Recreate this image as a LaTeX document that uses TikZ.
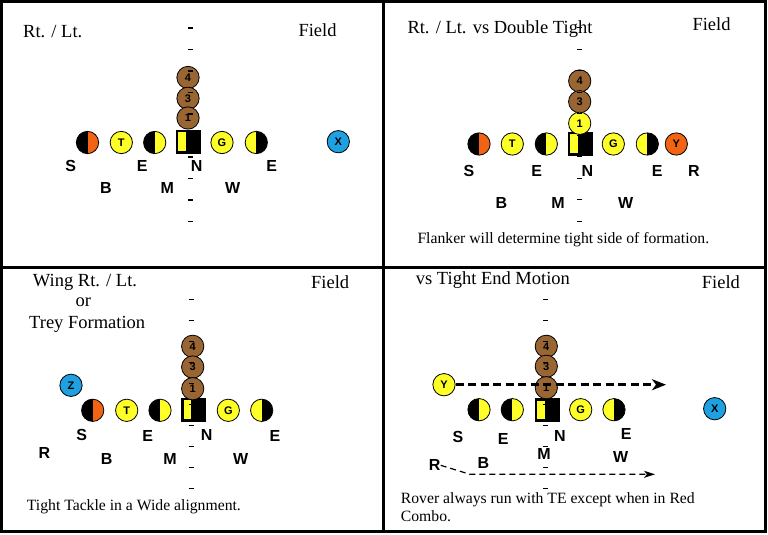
\documentclass[tikz,border=0pt]{standalone}
\usepackage{fontspec}
\setmainfont{Liberation Serif}
\setsansfont{Liberation Sans}
\usetikzlibrary{arrows.meta}

\definecolor{plyellow}{RGB}{255,255,40}
\definecolor{plbrown}{RGB}{153,102,51}
\definecolor{plblue}{RGB}{30,160,225}
\definecolor{plorange}{RGB}{240,100,20}

\begin{document}
\begin{tikzpicture}
[x = 1pt, y = -1pt,
 plyr/.style = {shape = circle, draw, line width = 0.8pt, minimum size = 22.3pt, inner sep = 0pt, font = \sffamily\bfseries\fontsize{11}{11}\selectfont},
 blackl/.style = {plyr, fill = #1, path picture = {\fill[black] (path picture bounding box.south west) rectangle (path picture bounding box.north);}},
 blackr/.style = {plyr, fill = #1, path picture = {\fill[black] (path picture bounding box.south) rectangle (path picture bounding box.north east);}},
 ctrbox/.style = {shape = rectangle, draw, fill = black, minimum width = 24pt, minimum height = 23pt, inner sep = 0pt,
   path picture = {\fill[plyellow] ([xshift = 2.3pt, yshift = 2.3pt]path picture bounding box.south west) rectangle ([xshift = 9.7pt, yshift = -2.3pt]path picture bounding box.north west);}},
 lbl/.style = {inner sep = 0pt, font = \sffamily\bfseries\fontsize{16}{16}\selectfont},
 hdr/.style = {inner sep = 0pt, font = \fontsize{18.5}{22}\selectfont},
 note/.style = {inner sep = 0pt, anchor = base west, font = \fontsize{15.7}{18}\selectfont},
 ydash/.style = {line width = 1.3pt},
 motion/.style = {line width = 2.5pt, dash pattern = on 8pt off 4.5pt, -{Stealth[length = 14pt, width = 11pt, inset = 4pt]}},
 rovpath/.style = {line width = 1.2pt, dash pattern = on 6pt off 4pt, -{Stealth[length = 11pt, width = 7pt, inset = 3pt]}}]
\useasboundingbox (0,0) rectangle (768,535);
\fill[white] (0,0) rectangle (768,535);
\draw[line width = 3pt] (1.5,1.5) rectangle (765,531);
\draw[line width = 2.5pt] (383.5,1.5) -- (383.5,531);
\draw[line width = 2.5pt] (1.5,267.3) -- (765,267.3);

\node[hdr, anchor = base west] (a-title) at (23,37.5) {Rt. / Lt.};
\node[hdr, anchor = base west] (a-field) at (298.3,37) {Field};
\node[blackl = plorange] (a-s) at (87.5,142.5) {};
\node[plyr, fill = plyellow] (a-t) at (121.3,142.5) {T};
\node[blackl = plyellow] (a-e) at (154.7,142.5) {};
\node[ctrbox] (a-c) at (188,141.5) {};
\node[plyr, fill = plyellow] (a-g) at (222,142.5) {G};
\node[blackr = plyellow] (a-f) at (256.3,142.5) {};
\node[plyr, fill = plblue] (a-x) at (338.3,141.7) {X};
\node[plyr, fill = plbrown] (a-4) at (188,77.5) {4};
\node[plyr, fill = plbrown] (a-3) at (188,98.3) {3};
\node[plyr, fill = plbrown] (a-1) at (188,118) {1};
\node[lbl] (a-ls) at (70.7,165.7) {S};
\node[lbl] (a-le) at (142.3,165.7) {E};
\node[lbl] (a-ln) at (196.7,165.7) {N};
\node[lbl] (a-lf) at (271.7,165.7) {E};
\node[lbl] (a-lb) at (106,187.7) {B};
\node[lbl] (a-lm) at (167.3,187.7) {M};
\node[lbl] (a-lw) at (232.7,187.7) {W};
\foreach \yy in {28,49.5,...,222}
    \draw[ydash] (187.5,\yy) -- (192.5,\yy);

\node[hdr, anchor = base west] (b-title) at (407.3,33.3) {Rt. / Lt. vs Double Tight};
\node[hdr, anchor = base west] (b-field) at (692.3,30.7) {Field};
\node[blackl = plorange] (b-s) at (479,144) {};
\node[plyr, fill = plyellow] (b-t) at (512.3,144) {T};
\node[blackl = plyellow] (b-e) at (546.3,144) {};
\node[ctrbox] (b-c) at (579.8,143.3) {};
\node[plyr, fill = plyellow] (b-g) at (613.3,144) {G};
\node[blackr = plyellow] (b-f) at (647.3,144) {};
\node[plyr, fill = plorange] (b-y) at (676.3,144) {Y};
\node[plyr, fill = plbrown] (b-4) at (579.7,81) {4};
\node[plyr, fill = plbrown] (b-3) at (579.7,101.7) {3};
\node[plyr, fill = plyellow] (b-1) at (579.7,123.3) {1};
\node[lbl] (b-ls) at (469,170.7) {S};
\node[lbl] (b-le) at (536.7,170.7) {E};
\node[lbl] (b-ln) at (587.3,170.7) {N};
\node[lbl] (b-lf) at (657.3,170.7) {E};
\node[lbl] (b-lr) at (694,170.7) {R};
\node[lbl] (b-lb) at (501.3,203.3) {B};
\node[lbl] (b-lm) at (558,203.3) {M};
\node[lbl] (b-lw) at (625.7,203.3) {W};
\node[note] (b-note) at (417.3,243.3) {Flanker will determine tight side of formation.};
\foreach \yy in {27.8,49.3,...,222}
    \draw[ydash] (577,\yy) -- (582,\yy);

\node[hdr, anchor = base] (c-title1) at (85,286) {Wing Rt. / Lt.};
\node[hdr, anchor = base] (c-title2) at (83.3,306.3) {or};
\node[hdr, anchor = base] (c-title3) at (87.2,328.7) {Trey Formation};
\node[hdr, anchor = base west] (c-field) at (311,288.7) {Field};
\node[plyr, fill = plblue] (c-z) at (71,385.3) {Z};
\node[blackl = plorange] (c-s) at (92.7,410.3) {};
\node[plyr, fill = plyellow] (c-t) at (126.7,410.3) {T};
\node[blackl = plyellow] (c-e) at (160,410.3) {};
\node[ctrbox] (c-c) at (193.5,409.5) {};
\node[plyr, fill = plyellow] (c-g) at (228.3,410.3) {G};
\node[blackr = plyellow] (c-f) at (261.7,410.3) {};
\node[plyr, fill = plbrown] (c-4) at (192.7,346.3) {4};
\node[plyr, fill = plbrown] (c-3) at (192.7,367) {3};
\node[plyr, fill = plbrown] (c-1) at (192.7,388.7) {1};
\node[lbl] (c-ls) at (81.7,435.3) {S};
\node[lbl] (c-le) at (147.7,436) {E};
\node[lbl] (c-ln) at (206.7,435.3) {N};
\node[lbl] (c-lf) at (275,436) {E};
\node[lbl] (c-lr) at (44.3,453) {R};
\node[lbl] (c-lb) at (106.7,458.7) {B};
\node[lbl] (c-lm) at (170,458.7) {M};
\node[lbl] (c-lw) at (240.7,458.7) {W};
\node[note] (c-note) at (26.7,510.3) {Tight Tackle in a Wide alignment.};
\foreach \yy in {299.3,320.35,...,490}
    \draw[ydash] (188.5,\yy) -- (193.5,\yy);

\node[hdr, anchor = base west] (d-title) at (415.7,284.3) {vs Tight End Motion};
\node[hdr, anchor = base west] (d-field) at (701.7,288.7) {Field};
\node[blackl = plyellow] (d-s) at (479,409.7) {};
\node[blackl = plyellow] (d-e) at (512.3,409.7) {};
\node[ctrbox] (d-c) at (547,409.7) {};
\node[plyr, fill = plyellow] (d-g) at (580.7,409.7) {G};
\node[blackr = plyellow] (d-f) at (614,409.7) {};
\node[plyr, fill = plblue] (d-x) at (714.7,408.7) {X};
\node[plyr, fill = plbrown] (d-4) at (546.3,346.3) {4};
\node[plyr, fill = plbrown] (d-3) at (546.3,366.3) {3};
\node[plyr, fill = plbrown] (d-1) at (546.3,387.7) {1};
\node[plyr, fill = plyellow] (d-y) at (444,384.7) {Y};
\node[lbl] (d-ls) at (458,437) {S};
\node[lbl] (d-le) at (503.3,438.7) {E};
\node[lbl] (d-ln) at (560,436.3) {N};
\node[lbl] (d-lf) at (626.3,433.7) {E};
\node[lbl] (d-lm) at (544,453.7) {M};
\node[lbl] (d-lw) at (620.7,457) {W};
\node[lbl] (d-lb) at (483.3,463) {B};
\node[lbl] (d-lr) at (434.7,465.3) {R};
\node[note] (d-note1) at (400.7,503) {Rover always run with TE except when in Red};
\node[note] (d-note2) at (400.7,521.3) {Combo.};
\coordinate (d-yend) at (666,384.7);
\coordinate (d-rbend) at (470,474.3);
\coordinate (d-rend) at (655,474.3);
\draw[motion] (d-y.east) -- (d-yend);
\draw[rovpath] (d-lr.east) -- (d-rbend) -- (d-rend);
\foreach \yy in {299.3,320.35,...,490}
    \draw[ydash] (543.2,\yy) -- (548.2,\yy);
\end{tikzpicture}
\end{document}
